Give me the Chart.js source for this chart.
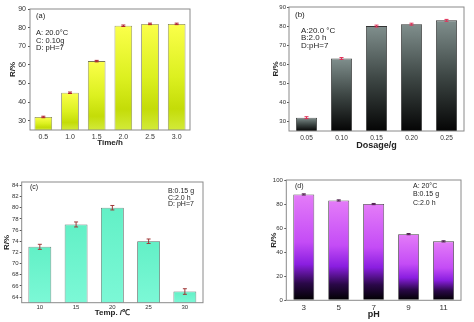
<!DOCTYPE html>
<html>
<head>
<meta charset="utf-8">
<script src="https://cdn.jsdelivr.net/npm/chart.js@4.4.1/dist/chart.umd.min.js"></script>
<style>
  html, body { margin: 0; padding: 0; background: #fff; }
  #wrap { position: relative; width: 474px; height: 322px; }
  .panel { position: absolute; width: 237px; height: 161px; }
</style>
</head>
<body>
<div id="wrap">
  <div class="panel" style="left:0;top:0"><canvas id="cA" width="237" height="161"></canvas></div>
  <div class="panel" style="left:237px;top:0"><canvas id="cB" width="237" height="161"></canvas></div>
  <div class="panel" style="left:0;top:161px"><canvas id="cC" width="237" height="161"></canvas></div>
  <div class="panel" style="left:237px;top:161px"><canvas id="cD" width="237" height="161"></canvas></div>
</div>
<script>
// (a) removal vs time
const timeLabels = ["0.5", "1.0", "1.5", "2.0", "2.5", "3.0"];
const timeR = [32, 45, 62, 81, 82, 82];
const timeErr = [0.4, 0.4, 0.4, 0.4, 0.4, 0.4];

// (b) removal vs dosage
const dosageLabels = ["0.05", "0.10", "0.15", "0.20", "0.25"];
const dosageR = [32, 63, 80, 81, 83];
const dosageErr = [0.5, 0.5, 0.5, 0.5, 0.5];

// (c) removal vs temperature
const tempLabels = ["10", "15", "20", "25", "30"];
const tempR = [73, 77, 80, 74, 65];
const tempErr = [0.45, 0.45, 0.4, 0.4, 0.5];

// (d) removal vs pH
const phLabels = ["3", "5", "7", "9", "11"];
const phR = [88, 83, 80, 55, 49];
const phErr = [0.5, 0.5, 0.5, 0.5, 0.5];

const yTicksTime = [30, 40, 50, 60, 70, 80, 90];
const yTicksDosage = [30, 40, 50, 60, 70, 80, 90];
const yTicksTemp = [64, 66, 68, 70, 72, 74, 76, 78, 80, 82, 84];
const yTicksPh = [0, 20, 40, 60, 80, 100];

const FONT = "'Liberation Sans', Arial, sans-serif";

// vertical gradient per bar, from bar top down to the axis
function barGradient(stops) {
  return (ctx) => {
    const chart = ctx.chart;
    const area = chart.chartArea;
    if (!area || ctx.type !== "data") return stops[0][1];
    const top = chart.scales.y.getPixelForValue(ctx.raw);
    const g = chart.ctx.createLinearGradient(0, top, 0, area.bottom);
    stops.forEach(([o, c]) => g.addColorStop(o, c));
    return g;
  };
}

const framePlugin = {
  id: "frame",
  afterDatasetsDraw(chart) {
    const { ctx, chartArea: a } = chart;
    ctx.save();
    ctx.strokeStyle = "#8a8a8a";
    ctx.lineWidth = 1;
    ctx.strokeRect(a.left, a.top, a.right - a.left, a.bottom - a.top);
    ctx.restore();
  }
};

const errorBarPlugin = {
  id: "errbars",
  afterDatasetsDraw(chart, args, opts) {
    const meta = chart.getDatasetMeta(0);
    const y = chart.scales.y;
    const vals = chart.data.datasets[0].data;
    const { ctx } = chart;
    ctx.save();
    ctx.strokeStyle = opts.color;
    ctx.lineWidth = 1;
    meta.data.forEach((bar, i) => {
      const e = opts.err[i];
      const y1 = y.getPixelForValue(vals[i] + e);
      const y2 = y.getPixelForValue(vals[i] - e);
      ctx.beginPath();
      ctx.moveTo(bar.x, y1); ctx.lineTo(bar.x, y2);
      ctx.moveTo(bar.x - 2, y1); ctx.lineTo(bar.x + 2, y1);
      ctx.moveTo(bar.x - 2, y2); ctx.lineTo(bar.x + 2, y2);
      ctx.stroke();
    });
    ctx.restore();
  }
};

const notesPlugin = {
  id: "notes",
  afterDraw(chart, args, opts) {
    const { ctx } = chart;
    ctx.save();
    ctx.fillStyle = "#222";
    ctx.font = opts.size + "px " + FONT;
    ctx.textBaseline = "middle";
    ctx.textAlign = "left";
    opts.lines.forEach(([t, x, y]) => ctx.fillText(t, x, y));
    ctx.restore();
  }
};

function makeChart(id, p) {
  return new Chart(document.getElementById(id), {
    type: "bar",
    data: {
      labels: p.labels,
      datasets: [{
        data: p.values,
        backgroundColor: barGradient(p.stops),
        borderColor: p.edge,
        borderWidth: 0.8,
        barPercentage: p.barPct,
        categoryPercentage: 1
      }]
    },
    options: {
      responsive: false,
      animation: false,
      devicePixelRatio: 1,
      layout: { padding: p.pad },
      plugins: {
        legend: { display: false },
        tooltip: { enabled: false },
        errbars: { err: p.err, color: p.errColor },
        notes: { lines: p.notes, size: p.noteSize }
      },
      scales: {
        x: {
          offset: true,
          grid: { display: false, drawTicks: false },
          border: { display: false },
          ticks: { color: "#333", padding: p.xTickPad, font: { family: FONT, size: p.xTickSize } },
          title: {
            display: true, text: p.xTitle, color: "#222",
            padding: { top: 0, bottom: 2 },
            font: { family: FONT, size: p.titleSize, weight: "bold" }
          },
          afterFit: (s) => { s.height = p.xH; }
        },
        y: {
          min: p.yMin, max: p.yMax,
          afterBuildTicks: (s) => { s.ticks = p.yTicks.map(v => ({ value: v })); },
          grid: { display: true, drawOnChartArea: false, tickLength: 2, color: "#555" },
          border: { display: false },
          ticks: { color: "#333", padding: p.yTickPad, font: { family: FONT, size: p.yTickSize } },
          title: {
            display: true, text: "R/%", color: "#222",
            padding: { top: 2, bottom: 0 },
            font: { family: FONT, size: 8, weight: "bold" }
          },
          afterFit: (s) => { s.width = p.yW; }
        }
      }
    },
    plugins: [framePlugin, errorBarPlugin, notesPlugin]
  });
}

makeChart("cA", {
  labels: timeLabels, values: timeR, err: timeErr, errColor: "#b02030",
  stops: [[0, "#fbff4a"], [0.5, "#dcf020"], [0.8, "#c4dc08"], [1, "#d2ea3a"]],
  edge: "#7a7a5a", barPct: 0.66,
  pad: { left: 6, right: 47, top: 9, bottom: 11 }, yW: 24, xH: 20,
  yMin: 25, yMax: 90, yTicks: yTicksTime, yTickPad: 2, yTickSize: 7,
  xTickPad: 2.5, xTickSize: 7, xTitle: "Time/h", titleSize: 8,
  noteSize: 7.5,
  notes: [["(a)", 36, 15.7], ["A: 20.0°C", 36, 32.7], ["C: 0.10g", 36, 40.7], ["D: pH=7", 36, 48.3]]
});

makeChart("cB", {
  labels: dosageLabels, values: dosageR, err: dosageErr, errColor: "#e03058",
  stops: [[0, "#808f8d"], [0.5, "#3e4745"], [1, "#050505"]],
  edge: "#333", barPct: 0.6,
  pad: { left: 32, right: 10, top: 7, bottom: 8 }, yW: 20, xH: 22,
  yMin: 25, yMax: 90, yTicks: yTicksDosage, yTickPad: 1, yTickSize: 6,
  xTickPad: 3, xTickSize: 6.5, xTitle: "Dosage/g", titleSize: 9,
  noteSize: 8,
  notes: [["(b)", 58, 14.3], ["A:20.0 °C", 64, 30.7], ["B:2.0 h", 64, 37.9], ["D:pH=7", 64, 45.7]]
});

makeChart("cC", {
  labels: tempLabels, values: tempR, err: tempErr, errColor: "#a03838",
  stops: [[0, "#62f0c6"], [1, "#7cf8d6"]],
  edge: "#5a6a64", barPct: 0.63,
  pad: { left: 0, right: 34, top: 21, bottom: 2 }, yW: 21.7, xH: 17.3,
  yMin: 63, yMax: 84.6, yTicks: yTicksTemp, yTickPad: 1, yTickSize: 6,
  xTickPad: 1.5, xTickSize: 6, xTitle: "Temp. /℃", titleSize: 8,
  noteSize: 7,
  notes: [["(c)", 30, 26], ["B:0.15 g", 168, 30], ["C:2.0 h", 168, 36.7], ["D: pH=7", 168, 43.3]]
});

makeChart("cD", {
  labels: phLabels, values: phR, err: phErr, errColor: "#502050",
  stops: [[0, "#e47cf8"], [0.45, "#c44cf6"], [0.66, "#8a1ee0"], [0.84, "#2a0848"], [1, "#000000"]],
  edge: "#444", barPct: 0.6,
  pad: { left: 30, right: 13, top: 19, bottom: 0 }, yW: 19.3, xH: 21.7,
  yMin: 0, yMax: 100, yTicks: yTicksPh, yTickPad: 1.5, yTickSize: 6,
  xTickPad: 2.5, xTickSize: 8, xTitle: "pH", titleSize: 9,
  noteSize: 7,
  notes: [["(d)", 58, 25], ["A: 20°C", 176, 25], ["B:0.15 g", 176, 33.3], ["C:2.0 h", 176, 41.7]]
});
</script>
</body>
</html>
